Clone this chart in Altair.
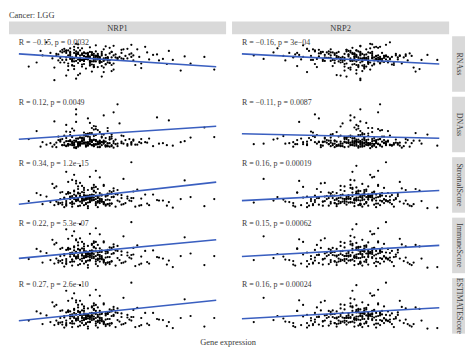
import altair as alt
import pandas as pd

SERIF = "Liberation Serif"

genes = ["NRP1", "NRP2"]
scores = ["RNAss", "DNAss", "StromalScore", "ImmuneScore", "ESTIMATEScore"]

# gene expression (relative units, 0-100)
nrp1 = [32, 41, 27, 55, 38, 19, 44, 36, 62, 29, 35, 48, 23, 40, 31, 71, 37, 26, 45, 33,
        39, 52, 28, 34, 16, 43, 58, 30, 42, 24, 36, 87, 47, 21, 38, 33, 66, 29, 41, 35,
        27, 50, 37, 44, 12, 32, 39, 57, 25, 46, 34, 30, 76, 40, 22, 36, 49, 28, 43, 31,
        38, 5, 45, 33, 60, 26, 41, 35, 53, 29, 37, 20, 47, 32, 94, 39, 27, 44, 34, 65,
        30, 42, 24, 36, 51, 28, 40, 17, 46, 33, 38, 59, 26, 43, 31, 35, 73, 22, 48, 37,
        29, 41, 34, 54, 25, 39, 32, 45, 14, 36, 68, 27, 43, 30, 50, 38, 23, 35, 82, 40,
        33, 47, 26, 37, 56, 31, 44, 9, 39, 28, 42, 35, 61, 24, 46, 32, 38, 52, 29, 41,
        36, 25, 43, 34, 78, 30, 40, 48, 21, 37, 33, 57, 27, 45, 39, 99, 31, 42, 18, 35,
        34, 22, 46, 29, 38, 53, 27, 41, 19, 36, 31, 64, 44, 25, 39, 48, 33, 28, 42, 11,
        37, 45, 24, 32, 57, 40, 30, 21, 35, 50, 26, 43, 38, 70, 29, 34, 47, 23, 41, 31,
        28, 39, 52, 33, 18, 44, 36, 25, 62, 40, 30, 46, 35, 27, 42, 84, 32, 37, 24, 49,
        41, 30, 36, 26, 45, 33, 55, 38, 20, 43, 29, 35, 75, 31, 40, 24, 47, 34, 58, 28]
nrp2 = [47, 71, 62, 33, 58, 80, 41, 66, 54, 29, 75, 60, 50, 68, 37, 57, 88, 63, 45, 52,
        70, 39, 59, 64, 24, 55, 78, 48, 61, 35, 67, 53, 82, 44, 59, 72, 30, 65, 51, 94,
        56, 62, 43, 76, 60, 18, 69, 49, 58, 85, 38, 64, 55, 73, 46, 61, 27, 70, 57, 42,
        66, 52, 79, 36, 63, 58, 47, 71, 11, 60, 54, 84, 40, 67, 57, 31, 74, 50, 62, 45,
        59, 73, 34, 65, 51, 90, 44, 61, 69, 56, 21, 77, 48, 63, 58, 39, 68, 53, 81, 60,
        42, 64, 57, 72, 28, 59, 50, 66, 75, 37, 62, 55, 87, 46, 70, 58, 33, 64, 52, 6,
        61, 49, 68, 56, 83, 43, 60, 74, 35, 65, 53, 70, 26, 58, 77, 47, 63, 55, 40, 71,
        54, 67, 45, 62, 99, 57, 38, 69, 52, 64, 16, 73, 59, 48, 66, 55, 79, 41, 60, 50,
        63, 55, 70, 48, 59, 36, 66, 74, 52, 61, 44, 68, 57, 80, 50, 65, 28, 60, 72, 54,
        58, 47, 67, 62, 39, 71, 56, 64, 86, 51, 60, 33, 69, 57, 45, 76, 62, 53, 66, 22,
        49, 68, 60, 75, 55, 42, 63, 58, 70, 31, 66, 52, 78, 61, 46, 57, 91, 64, 50, 59,
        72, 56, 41, 65, 60, 83, 48, 62, 54, 69, 37, 58, 64, 45, 73, 56, 61, 26, 67, 53]

# scores (relative units, 0-100)
rnass = [71, 55, 63, 80, 48, 66, 59, 74, 42, 68, 61, 86, 53, 65, 77, 57, 35, 69, 62, 50,
         64, 78, 46, 60, 72, 56, 67, 28, 70, 58, 83, 51, 63, 75, 44, 66, 59, 90, 54, 68,
         57, 62, 73, 49, 67, 81, 55, 64, 38, 71, 60, 52, 76, 65, 58, 47, 69, 84, 61, 56,
         70, 45, 63, 58, 79, 66, 52, 72, 60, 21, 68, 57, 74, 49, 64, 87, 55, 62, 41, 73,
         59, 67, 76, 53, 64, 40, 70, 61, 82, 56, 66, 48, 72, 58, 31, 65, 60, 78, 51, 69,
         63, 54, 71, 66, 46, 75, 58, 62, 93, 50, 68, 57, 43, 73, 61, 55, 80, 64, 37, 67,
         56, 74, 60, 49, 69, 62, 85, 53, 66, 72, 25, 59, 64, 77, 52, 68, 45, 61, 71, 57,
         65, 51, 79, 60, 58, 70, 44, 67, 62, 55, 73, 88, 48, 63, 66, 39, 59, 74, 18, 61,
         60, 73, 52, 66, 58, 79, 47, 64, 70, 55, 62, 84, 50, 67, 59, 39, 72, 61, 54, 76,
         68, 57, 63, 45, 71, 60, 82, 53, 66, 58, 74, 34, 62, 69, 56, 64, 48, 75, 61, 57,
         55, 66, 72, 59, 43, 68, 62, 77, 51, 64, 89, 57, 70, 60, 46, 65, 58, 73, 27, 63,
         62, 70, 56, 81, 53, 66, 61, 44, 69, 58, 75, 64, 50, 67, 59, 72, 36, 63, 57, 78]
dnass = [18, 6, 25, 11, 40, 14, 8, 21, 13, 55, 9, 17, 28, 5, 15, 12, 33, 19, 7, 23,
         10, 16, 4, 27, 13, 68, 20, 9, 15, 36, 11, 24, 7, 18, 47, 14, 22, 3, 12, 30,
         26, 12, 19, 8, 15, 22, 41, 10, 17, 6, 29, 13, 58, 16, 9, 20, 11, 38, 14, 24,
         7, 21, 13, 34, 10, 17, 5, 26, 12, 80, 15, 19, 9, 23, 44, 11, 16, 8, 31, 14,
         15, 9, 23, 12, 52, 18, 11, 6, 20, 14, 27, 10, 35, 16, 8, 62, 13, 21, 4, 17,
         22, 13, 8, 19, 11, 29, 16, 43, 10, 25, 7, 14, 18, 12, 90, 20, 9, 32, 15, 11,
         12, 26, 17, 9, 21, 14, 6, 37, 19, 11, 24, 8, 15, 49, 13, 18, 10, 28, 5, 16,
         19, 11, 30, 14, 8, 22, 12, 74, 16, 9, 20, 13, 42, 7, 17, 25, 10, 15, 56, 12,
         14, 9, 21, 16, 7, 27, 12, 18, 5, 33, 11, 15, 23, 8, 46, 13, 19, 10, 26, 6,
         17, 12, 8, 24, 15, 39, 10, 20, 13, 7, 29, 16, 11, 64, 18, 9, 22, 14, 35, 12,
         8, 19, 13, 28, 10, 16, 53, 11, 21, 15, 6, 25, 14, 9, 31, 17, 12, 43, 7, 20,
         13, 22, 16, 10, 37, 14, 8, 19, 26, 12, 70, 15, 9, 24, 11, 17, 30, 6, 18, 14]
stromal = [20, 34, 12, 27, 45, 17, 9, 30, 23, 58, 15, 38, 25, 6, 29, 19, 42, 14, 33, 22,
           28, 11, 37, 21, 16, 50, 24, 8, 31, 18, 66, 26, 13, 35, 20, 44, 10, 29, 23, 4,
           15, 40, 22, 30, 12, 26, 78, 18, 33, 9, 24, 47, 16, 28, 36, 20, 7, 31, 14, 54,
           25, 18, 32, 10, 41, 22, 14, 29, 62, 19, 27, 12, 36, 23, 8, 46, 17, 30, 21, 13,
           33, 20, 9, 26, 17, 39, 24, 52, 13, 28, 21, 7, 34, 16, 88, 25, 19, 11, 43, 27,
           18, 29, 23, 14, 35, 10, 48, 21, 27, 16, 31, 60, 12, 24, 19, 37, 6, 26, 22, 15,
           30, 13, 25, 44, 19, 28, 11, 34, 22, 70, 17, 27, 9, 32, 20, 14, 38, 24, 53, 18,
           23, 36, 16, 29, 5, 21, 42, 26, 14, 31, 19, 95, 25, 12, 35, 22, 28, 17, 10, 40,
           26, 15, 33, 21, 39, 12, 28, 18, 47, 24, 9, 31, 20, 56, 16, 27, 35, 13, 22, 30,
           19, 29, 11, 36, 24, 17, 42, 22, 8, 31, 26, 14, 50, 20, 28, 12, 33, 23, 65, 17,
           24, 13, 30, 20, 44, 27, 16, 34, 10, 25, 19, 38, 22, 7, 29, 59, 18, 26, 14, 32,
           21, 35, 17, 27, 12, 40, 23, 30, 15, 48, 20, 25, 9, 33, 18, 76, 26, 14, 37, 22]
immune = [30, 44, 18, 36, 55, 24, 12, 39, 28, 62, 20, 47, 33, 9, 41, 26, 51, 17, 35, 29,
          38, 15, 46, 27, 21, 58, 32, 11, 40, 23, 73, 34, 19, 43, 25, 53, 14, 37, 31, 6,
          22, 49, 29, 39, 16, 33, 84, 24, 42, 13, 31, 56, 20, 36, 45, 27, 10, 40, 19, 64,
          33, 23, 41, 14, 50, 28, 18, 37, 68, 25, 35, 16, 45, 30, 11, 57, 22, 38, 27, 17,
          42, 26, 13, 34, 21, 48, 31, 61, 17, 36, 28, 9, 43, 22, 92, 32, 24, 15, 52, 35,
          24, 37, 30, 18, 44, 13, 57, 27, 35, 20, 40, 69, 16, 31, 25, 46, 8, 34, 29, 21,
          39, 18, 32, 53, 26, 36, 15, 43, 29, 78, 23, 35, 12, 41, 27, 19, 47, 31, 60, 24,
          30, 45, 21, 38, 7, 28, 51, 34, 19, 40, 25, 96, 33, 16, 44, 29, 36, 23, 14, 49,
          34, 21, 41, 28, 47, 16, 36, 24, 55, 31, 13, 39, 26, 63, 22, 35, 43, 18, 29, 38,
          25, 37, 15, 44, 31, 23, 50, 29, 11, 39, 33, 19, 58, 27, 36, 17, 42, 30, 72, 22,
          31, 18, 38, 26, 52, 34, 21, 42, 14, 32, 25, 46, 28, 10, 37, 66, 24, 33, 19, 40,
          28, 43, 22, 35, 16, 48, 30, 38, 20, 56, 26, 32, 12, 41, 24, 82, 33, 19, 45, 29]
estimate = [26, 40, 15, 32, 51, 21, 10, 35, 26, 61, 18, 43, 30, 7, 36, 23, 47, 16, 34, 26,
            34, 13, 42, 24, 18, 55, 28, 9, 36, 21, 71, 30, 16, 40, 23, 49, 12, 33, 27, 5,
            19, 45, 26, 35, 14, 30, 82, 21, 38, 11, 28, 52, 18, 32, 41, 24, 8, 36, 17, 60,
            29, 21, 37, 12, 46, 25, 16, 33, 66, 22, 31, 14, 41, 27, 9, 52, 20, 34, 24, 15,
            38, 23, 11, 30, 19, 44, 28, 57, 15, 32, 25, 8, 39, 19, 91, 29, 22, 13, 48, 31,
            21, 33, 27, 16, 40, 11, 53, 24, 31, 18, 36, 65, 14, 28, 22, 42, 7, 30, 26, 18,
            35, 15, 29, 49, 23, 32, 13, 39, 26, 75, 20, 31, 10, 37, 24, 16, 43, 28, 57, 21,
            27, 41, 19, 34, 6, 25, 47, 30, 17, 36, 22, 96, 29, 14, 40, 26, 32, 20, 12, 45,
            31, 18, 38, 25, 44, 14, 33, 21, 52, 28, 11, 36, 23, 60, 19, 32, 40, 15, 26, 35,
            22, 34, 13, 41, 28, 20, 47, 26, 9, 36, 30, 16, 55, 24, 33, 14, 39, 27, 70, 19,
            28, 15, 35, 23, 49, 31, 18, 39, 12, 29, 22, 43, 25, 8, 34, 63, 21, 30, 16, 37,
            25, 40, 19, 32, 14, 45, 27, 35, 17, 53, 23, 29, 10, 38, 21, 80, 30, 16, 42, 26]

# fitted regression lines (value at min and max expression), per score
fit_x = [0, 100]
fit_start_nrp1 = [70, 20.7, 11.6, 24.4, 20.7]
fit_end_nrp1 = [44.6, 46.4, 55.6, 61.1, 61.1]
fit_start_nrp2 = [70, 31.7, 18.9, 28.1, 24.4]
fit_end_nrp2 = [50, 22.6, 39.1, 50.1, 46.4]

labels_nrp1 = ["R = \u22120.15, p = 0.0032", "R = 0.12, p = 0.0049", "R = 0.34, p = 1.2e\u221215",
               "R = 0.22, p = 5.3e\u221207", "R = 0.27, p = 2.6e\u221210"]
labels_nrp2 = ["R = \u22120.16, p = 3e\u221204", "R = \u22120.11, p = 0.0087", "R = 0.16, p = 0.00019",
               "R = 0.15, p = 0.00062", "R = 0.16, p = 0.00024"]

df = pd.DataFrame({"NRP1": nrp1, "NRP2": nrp2, "RNAss": rnass, "DNAss": dnass,
                   "StromalScore": stromal, "ImmuneScore": immune, "ESTIMATEScore": estimate})

fits = {"NRP1": (fit_start_nrp1, fit_end_nrp1), "NRP2": (fit_start_nrp2, fit_end_nrp2)}
labels = {"NRP1": labels_nrp1, "NRP2": labels_nrp2}

W = 219
H = 56
STRIP = 13
RSTRIP = 13
GRID_X = [-0.9, 8.2, 17.3, 26.4, 35.5, 44.6, 53.7, 62.8, 71.9, 81.0, 90.1, 99.2]
GRID_Y = [1.5, 15, 28.5, 42, 55.5, 69, 82.5, 96]
LINE_COLOR = "#3a5fc0"
TEXT_COLOR = "#3a3a3a"


def axis(vals):
    return alt.Axis(labels=False, ticks=False, domain=False, title=None, grid=True,
                    values=vals, gridDash=[1, 3], gridColor="#b0b0b0", gridWidth=0.8,
                    minExtent=0, maxExtent=0)


def panel(gene, si):
    score = scores[si]
    xs = alt.Scale(domain=[-5, 105], nice=False, zero=False)
    ys = alt.Scale(domain=[-5, 105], nice=False, zero=False)
    pts = alt.Chart(df).mark_circle(size=5, color="black", opacity=1).encode(
        x=alt.X(f"{gene}:Q", scale=xs, axis=axis(GRID_X)),
        y=alt.Y(f"{score}:Q", scale=ys, axis=axis(GRID_Y)),
    )
    s, e = fits[gene]
    fit_df = pd.DataFrame({"x": fit_x, "y": [s[si], e[si]]})
    line = alt.Chart(fit_df).mark_line(color=LINE_COLOR, strokeWidth=1.6).encode(
        x=alt.X("x:Q", scale=xs, axis=None),
        y=alt.Y("y:Q", scale=ys, axis=None),
    )
    lab_df = pd.DataFrame({"x": [0], "y": [100], "t": [labels[gene][si]]})
    lab = alt.Chart(lab_df).mark_text(align="left", baseline="top", font=SERIF,
                                      fontSize=8, color=TEXT_COLOR).encode(
        x=alt.X("x:Q", scale=xs, axis=None),
        y=alt.Y("y:Q", scale=ys, axis=None),
        text="t:N",
    )
    return alt.layer(pts, line, lab).properties(width=W, height=H)


def col_strip(label):
    d = pd.DataFrame({"t": [label]})
    rect = alt.Chart(d).mark_rect(color="#d9d9d9").encode(
        x=alt.value(0), x2=alt.value(W), y=alt.value(0), y2=alt.value(STRIP))
    txt = alt.Chart(d).mark_text(font=SERIF, fontSize=8.5, color=TEXT_COLOR,
                                 baseline="middle", align="center").encode(
        x=alt.value(W / 2), y=alt.value(STRIP / 2 + 0.5), text="t:N")
    return alt.layer(rect, txt).properties(width=W, height=STRIP)


def row_strip(label):
    d = pd.DataFrame({"t": [label]})
    rect = alt.Chart(d).mark_rect(color="#d9d9d9").encode(
        x=alt.value(0), x2=alt.value(RSTRIP), y=alt.value(0), y2=alt.value(H))
    txt = alt.Chart(d).mark_text(font=SERIF, fontSize=8, color=TEXT_COLOR, angle=90,
                                 baseline="middle", align="center").encode(
        x=alt.value(RSTRIP / 2), y=alt.value(H / 2), text="t:N")
    return alt.layer(rect, txt).properties(width=RSTRIP, height=H)


def text_chart(label, width, height, align, xpos):
    d = pd.DataFrame({"t": [label]})
    return alt.Chart(d).mark_text(font=SERIF, fontSize=8.5, color=TEXT_COLOR,
                                  baseline="middle", align=align).encode(
        x=alt.value(xpos), y=alt.value(height / 2), text="t:N"
    ).properties(width=width, height=height)


header = alt.hconcat(col_strip("NRP1"), col_strip("NRP2"), spacing=4)
rows = []
for si, sc in enumerate(scores):
    pair = alt.hconcat(panel("NRP1", si), panel("NRP2", si), spacing=4)
    rows.append(alt.hconcat(pair, row_strip(sc), spacing=1))
body = alt.vconcat(*rows, spacing=3)

title_chart = text_chart("Cancer: LGG", 2 * W + 4, 9, "left", 0)
xlab = text_chart("Gene expression", 2 * W + 4, 11, "center", (2 * W + 4) / 2)

chart = alt.vconcat(
    title_chart,
    alt.vconcat(alt.vconcat(header, body, spacing=0), xlab, spacing=1),
    spacing=0,
).properties(padding=0).configure_view(stroke="transparent")

chart.save("out.html", embed_options={"renderer": "svg", "actions": False})
